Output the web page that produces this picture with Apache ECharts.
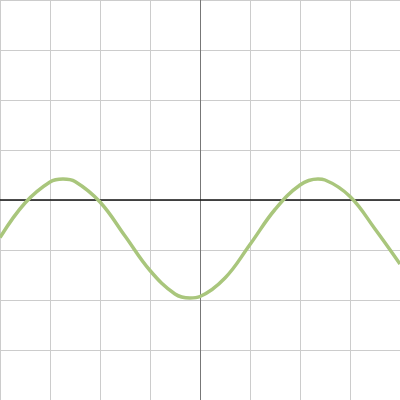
<!DOCTYPE html>
<html>
<head>
<meta charset="utf-8">
<script src="https://cdn.jsdelivr.net/npm/echarts@6/dist/echarts.min.js"></script>
<style>html,body{margin:0;padding:0;background:#fff}#chart{width:400px;height:400px}</style>
</head>
<body>
<div id="chart"></div>
<script>
// curve points (x, y in grid units)
const xs = [-4, -3.5, -3, -2.74, -2.5, -2, -1.5, -1, -0.5, -0.2, 0, 0.5, 1, 1.5, 2, 2.36, 2.5, 3, 3.5, 4];
const ys = [-0.75, -0.06, 0.36, 0.42, 0.37, -0.04, -0.72, -1.41, -1.88, -1.96, -1.93, -1.56, -0.89, -0.19, 0.30, 0.42, 0.40, 0.07, -0.58, -1.28];

const chart = echarts.init(document.getElementById("chart"));
chart.setOption({
  animation: false,
  grid: { left: 0, right: 0, top: 0, bottom: 0 },
  xAxis: {
    type: "value", min: -4, max: 4, interval: 1,
    axisLine: { onZero: true, lineStyle: { color: "#111", width: 1.5 } },
    axisTick: { show: false }, axisLabel: { show: false },
    splitLine: { lineStyle: { color: "#ccc" } }
  },
  yAxis: {
    type: "value", min: -4, max: 4, interval: 1,
    axisLine: { show: true, onZero: true, lineStyle: { color: "#777", width: 1 } },
    axisTick: { show: false }, axisLabel: { show: false },
    splitLine: { lineStyle: { color: "#ccc" } }
  },
  series: [{
    type: "line",
    data: xs.map((x, i) => [x, ys[i]]),
    smooth: 0.4,
    showSymbol: false,
    lineStyle: { color: "#a9c67c", width: 3.5 }
  }]
});
</script>
</body>
</html>
